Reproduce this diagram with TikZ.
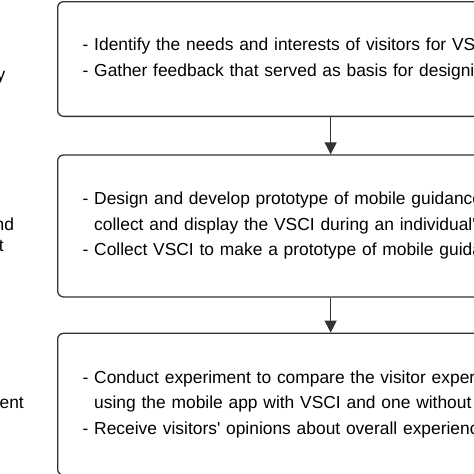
\documentclass[tikz,border=0pt]{standalone}
\usepackage{fontspec}
\setmainfont{Liberation Sans}
\usetikzlibrary{positioning,arrows.meta}
\definecolor{boxline}{HTML}{333333}
\begin{document}
\begin{tikzpicture}[x=1pt,y=-1pt,
  every node/.style={font=\fontsize{17.4}{25.5}\selectfont},
  stagebox/.style={draw=boxline,line width=1.3pt,rounded corners=6pt,text width=496pt,align=left,inner xsep=25pt,anchor=north west},
  stagelabel/.style={anchor=base east,inner sep=0pt},
  flow/.style={draw=boxline,line width=1.3pt,-{Triangle[width=12pt,length=12pt]}}]
\useasboundingbox (0,0) rectangle (474,474);
\clip (0,0) rectangle (474,474);
\node[stagebox,minimum height=114.7pt] (survey) at (57,1)
  {- Identify the needs and interests of visitors for VSCI\\
   - Gather feedback that served as basis for designing};
\node[stagebox,minimum height=142pt,below=37.3pt of survey] (design)
  {- Design and develop prototype of mobile guidance\\
   \phantom{- }collect and display the VSCI during an individual\textquotesingle s\\
   - Collect VSCI to make a prototype of mobile guidance};
\node[stagebox,minimum height=142pt,below=35pt of design] (test)
  {- Conduct experiment to compare the visitor experience\\
   \phantom{- }using the mobile app with VSCI and one without\\
   - Receive visitors\textquotesingle{} opinions about overall experience};
\node[stagelabel] (surveylab) at (5.5,80) {y};
\node[stagelabel] (designlab) at (14.3,230) {nd};
\node[stagelabel] (designlabb) at (4,251) {t};
\node[stagelabel] (testlab) at (24,408) {ent};
\draw[flow] (survey) -- (design);
\draw[flow] (design) -- (test);
\end{tikzpicture}
\end{document}
